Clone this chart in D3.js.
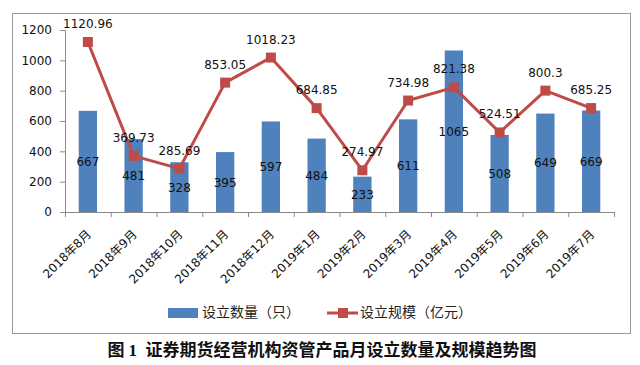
<!DOCTYPE html>
<html>
<head>
<meta charset="utf-8">
<script src="https://cdn.jsdelivr.net/npm/d3@7"></script>
<style>
  html, body { margin: 0; padding: 0; background: #fff; }
  svg { display: block; }
</style>
</head>
<body>
<svg id="chart" width="640" height="365"></svg>
<script>
const categories = ["2018年8月","2018年9月","2018年10月","2018年11月","2018年12月","2019年1月","2019年2月","2019年3月","2019年4月","2019年5月","2019年6月","2019年7月"];
const counts = [667, 481, 328, 395, 597, 484, 233, 611, 1065, 508, 649, 669];
const scales = [1120.96, 369.73, 285.69, 853.05, 1018.23, 684.85, 274.97, 734.98, 821.38, 524.51, 800.3, 685.25];
const yTicks = [0, 200, 400, 600, 800, 1000, 1200];
const seriesNames = ["设立数量（只）", "设立规模（亿元）"];
const captionText = "图 1  证券期货经营机构资管产品月设立数量及规模趋势图";

const svg = d3.select("#chart");
const barColor = "#4F81BD";
const lineColor = "#BE4B48";
const numFont = "DejaVu Sans, Verdana, sans-serif";
const cjkSerif = "'Liberation Serif', 'Noto Sans CJK SC', serif";

// outer frame
svg.append("rect").attr("x", 12.5).attr("y", 13.5).attr("width", 618).attr("height", 320)
  .attr("fill", "none").attr("stroke", "#9a9a9a").attr("stroke-width", 1);

const x = d3.scaleBand().domain(categories).range([65, 614]).paddingInner(0.6).paddingOuter(0.3);
const y = d3.scaleLinear().domain([0, 1200]).range([212, 30]);

// bars
svg.append("g").selectAll("rect").data(counts).join("rect")
  .attr("x", (d, i) => x(categories[i]))
  .attr("y", d => y(d))
  .attr("width", x.bandwidth())
  .attr("height", d => y(0) - y(d))
  .attr("fill", barColor);

// y axis
const yAxis = svg.append("g").attr("transform", "translate(65,0)")
  .call(d3.axisLeft(y).tickValues(yTicks).tickSize(5).tickPadding(8).tickFormat(d3.format("d")));
yAxis.select(".domain").attr("stroke", "#8a8a8a");
yAxis.selectAll(".tick line").attr("stroke", "#8a8a8a");
yAxis.selectAll(".tick text").attr("font-family", numFont).attr("font-size", 12).attr("fill", "#111");

// x axis line and ticks at category boundaries
const gx = svg.append("g");
gx.append("line").attr("x1", 65).attr("x2", 614).attr("y1", y(0) + 0.5).attr("y2", y(0) + 0.5)
  .attr("stroke", "#8a8a8a");
const step = x.step();
const x0 = x.range()[0];
gx.selectAll("line.t").data(d3.range(categories.length + 1)).join("line")
  .attr("class", "t")
  .attr("x1", i => x0 + i * step + 0.5).attr("x2", i => x0 + i * step + 0.5)
  .attr("y1", y(0)).attr("y2", y(0) + 5)
  .attr("stroke", "#8a8a8a");
gx.selectAll("text").data(categories).join("text")
  .attr("transform", d => `translate(${x(d) + x.bandwidth() / 2 + 4},${y(0) + 23}) rotate(-45)`)
  .attr("text-anchor", "end")
  .attr("font-family", "'DejaVu Sans', 'Noto Sans CJK SC', sans-serif")
  .attr("font-size", 12)
  .attr("fill", "#111")
  .text(d => d);

// line
const cx = (i) => x(categories[i]) + x.bandwidth() / 2;
const line = d3.line().x((d, i) => cx(i)).y(d => y(d));
svg.append("path").datum(scales).attr("d", line)
  .attr("fill", "none").attr("stroke", lineColor).attr("stroke-width", 3).attr("stroke-linejoin", "round");
svg.append("g").selectAll("rect").data(scales).join("rect")
  .attr("x", (d, i) => cx(i) - 5).attr("y", d => y(d) - 5)
  .attr("width", 10).attr("height", 10).attr("fill", lineColor);

// bar labels (centered in bar)
svg.append("g").selectAll("text").data(counts).join("text")
  .attr("x", (d, i) => cx(i))
  .attr("y", d => (y(d) + y(0)) / 2 + 4.5)
  .attr("text-anchor", "middle")
  .attr("font-family", numFont).attr("font-size", 12).attr("fill", "#111")
  .text(d => d);

// line labels (above)
svg.append("g").selectAll("text").data(scales).join("text")
  .attr("x", (d, i) => cx(i))
  .attr("y", d => y(d) - 14)
  .attr("text-anchor", "middle")
  .attr("font-family", numFont).attr("font-size", 12).attr("fill", "#111")
  .text(d => d);

// legend
const lg = svg.append("g");
lg.append("rect").attr("x", 168).attr("y", 308).attr("width", 30).attr("height", 10).attr("fill", barColor);
lg.append("text").attr("x", 202).attr("y", 317).attr("font-family", cjkSerif).attr("font-size", 14)
  .attr("fill", "#222").text(seriesNames[0]);
lg.append("line").attr("x1", 327).attr("x2", 358).attr("y1", 313).attr("y2", 313)
  .attr("stroke", lineColor).attr("stroke-width", 3);
lg.append("rect").attr("x", 338).attr("y", 308).attr("width", 10).attr("height", 10).attr("fill", lineColor);
lg.append("text").attr("x", 360).attr("y", 317).attr("font-family", cjkSerif).attr("font-size", 14)
  .attr("fill", "#222").text(seriesNames[1]);

// caption
svg.append("text").attr("x", 322).attr("y", 356).attr("text-anchor", "middle")
  .attr("font-family", cjkSerif).attr("font-size", 17).attr("font-weight", "bold")
  .attr("fill", "#111").attr("xml:space", "preserve").style("white-space", "pre")
  .text(captionText);
</script>
</body>
</html>
